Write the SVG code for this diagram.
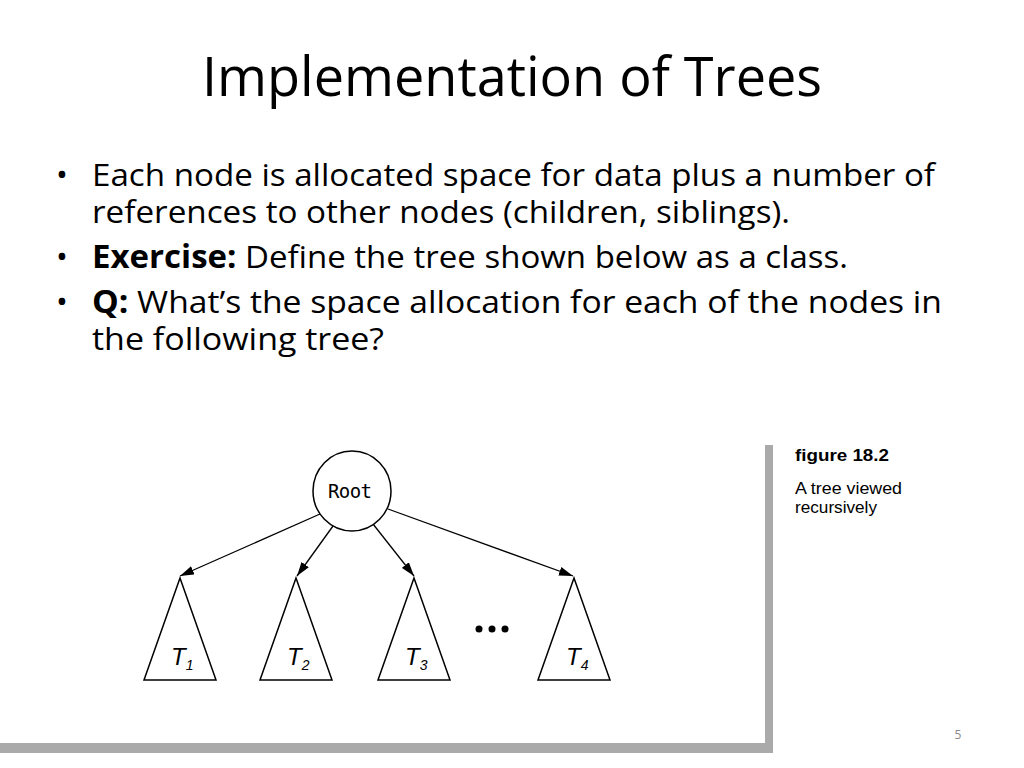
<svg xmlns="http://www.w3.org/2000/svg" width="1024" height="768" viewBox="0 0 1024 768">
<style>
.t{font-family:"Open Sans","Liberation Sans",sans-serif;fill:#000}
.b{font-size:31.5px}
.tri{fill:#fff;stroke:#000;stroke-width:1.5}
.e{stroke:#000;stroke-width:1.3;fill:none;marker-end:url(#ah)}
.s{font-family:"Liberation Sans",sans-serif;font-style:italic;font-size:24px}
.sub{font-size:14px}
.f{font-family:"Liberation Sans",sans-serif;font-size:17px}
</style>
<defs><marker id="ah" markerWidth="14" markerHeight="9" refX="14" refY="4.5" orient="auto" markerUnits="userSpaceOnUse"><path d="M0,0 L14,4.5 L0,9 z" fill="#000"/></marker></defs>
<rect width="1024" height="768" fill="#fff"/>
<text class="t" x="512" y="96" font-size="54" text-anchor="middle">Implementation of Trees</text>
<g class="t b">
<text x="56" y="186">•</text><text x="92" y="186" textLength="843" lengthAdjust="spacingAndGlyphs">Each node is allocated space for data plus a number of</text>
<text x="92" y="223" textLength="698" lengthAdjust="spacingAndGlyphs">references to other nodes (children, siblings).</text>
<text x="56" y="268">•</text><text x="92" y="268" textLength="756" lengthAdjust="spacingAndGlyphs"><tspan font-weight="bold">Exercise:</tspan> Define the tree shown below as a class.</text>
<text x="56" y="313">•</text><text x="92" y="313" textLength="850" lengthAdjust="spacingAndGlyphs"><tspan font-weight="bold">Q:</tspan> What’s the space allocation for each of the nodes in</text>
<text x="92" y="350" textLength="292" lengthAdjust="spacingAndGlyphs">the following tree?</text>
</g>
<rect x="765" y="445" width="8" height="308" fill="#aaa"/>
<rect x="0" y="743" width="773" height="10" fill="#aaa"/>
<text class="f" x="795" y="461" font-weight="bold" textLength="94" lengthAdjust="spacingAndGlyphs">figure 18.2</text>
<text class="f" x="795" y="494" textLength="107" lengthAdjust="spacingAndGlyphs">A tree viewed</text>
<text class="f" x="795" y="513" textLength="82" lengthAdjust="spacingAndGlyphs">recursively</text>
<g id="edges">
<line class="e" x1="320" y1="514" x2="180" y2="576"/>
<line class="e" x1="333" y1="526" x2="297" y2="576"/>
<line class="e" x1="373" y1="524" x2="414" y2="576"/>
<line class="e" x1="388" y1="509" x2="573" y2="576"/>
</g>
<g id="root"><ellipse cx="352" cy="491" rx="39" ry="40" fill="#fff" stroke="#000" stroke-width="1.5"/><text x="350" y="498" font-family="DejaVu Sans Mono,monospace" font-size="19" text-anchor="middle" textLength="44">Root</text></g>
<g id="T1"><polygon class="tri" points="180,578 144,680 216,680"/><text class="s" x="171" y="665">T<tspan class="sub" dy="5">1</tspan></text></g>
<g id="T2"><polygon class="tri" points="296,578 260,680 332,680"/><text class="s" x="287" y="665">T<tspan class="sub" dy="5">2</tspan></text></g>
<g id="T3"><polygon class="tri" points="414,578 378,680 450,680"/><text class="s" x="405" y="665">T<tspan class="sub" dy="5">3</tspan></text></g>
<g id="T4"><polygon class="tri" points="574,578 538,680 610,680"/><text class="s" x="566" y="665">T<tspan class="sub" dy="5">4</tspan></text></g>
<g fill="#000"><circle cx="479" cy="629" r="3.5"/><circle cx="492" cy="629" r="3.5"/><circle cx="505" cy="629" r="3.5"/></g>
<text x="958" y="739" font-family="Open Sans,sans-serif" font-size="12" fill="#888" text-anchor="middle">5</text>
</svg>
